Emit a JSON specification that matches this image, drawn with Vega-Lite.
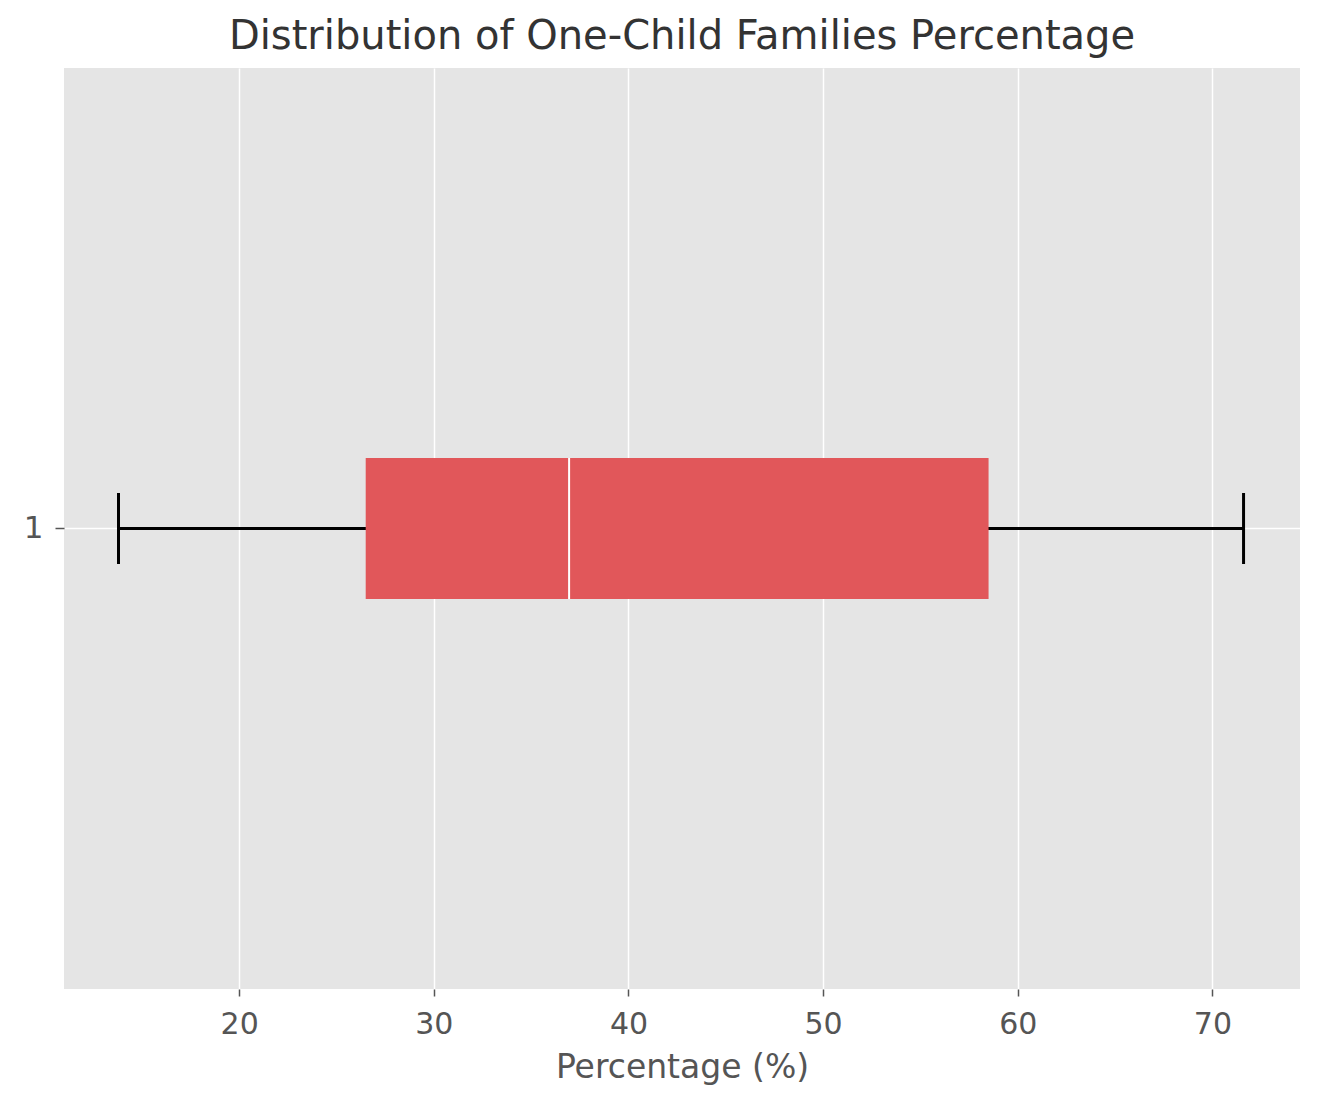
{
  "$schema": "https://vega.github.io/schema/vega-lite/v6.json",
  "autosize": "none",
  "width": 1236,
  "height": 921,
  "padding": {"left": 64, "top": 68, "right": 20, "bottom": 119},
  "background": "white",
  "title": {
    "text": "Distribution of One-Child Families Percentage",
    "font": "DejaVu Sans",
    "fontSize": 40,
    "fontWeight": "normal",
    "color": "#333333",
    "anchor": "middle",
    "offset": 11
  },
  "data": {
    "values": [
      {"group": "1", "min": 13.8, "q1": 26.5, "median": 36.95, "q3": 58.5, "max": 71.6}
    ]
  },
  "encoding": {
    "y": {
      "field": "group",
      "type": "nominal",
      "title": null,
      "axis": {"labelAngle": 0, "labelFontSize": 31, "tickSize": 9, "labelPadding": 12}
    }
  },
  "layer": [
    {
      "mark": {"type": "rule", "color": "black", "strokeWidth": 3},
      "encoding": {
        "x": {
          "field": "min",
          "type": "quantitative",
          "title": "Percentage (%)",
          "scale": {"domain": [11.0, 74.5], "nice": false, "zero": false},
          "axis": {"values": [20, 30, 40, 50, 60, 70], "labelPadding": 13, "titlePadding": 12}
        },
        "x2": {"field": "max"}
      }
    },
    {
      "mark": {"type": "bar", "color": "#E1575A", "size": 141},
      "encoding": {
        "x": {"field": "q1", "type": "quantitative"},
        "x2": {"field": "q3"}
      }
    },
    {
      "mark": {"type": "tick", "color": "white", "size": 141, "thickness": 2, "opacity": 1},
      "encoding": {
        "x": {"field": "median", "type": "quantitative"}
      }
    },
    {
      "mark": {"type": "tick", "color": "black", "size": 71, "thickness": 3, "opacity": 1},
      "encoding": {
        "x": {"field": "min", "type": "quantitative"}
      }
    },
    {
      "mark": {"type": "tick", "color": "black", "size": 71, "thickness": 3, "opacity": 1},
      "encoding": {
        "x": {"field": "max", "type": "quantitative"}
      }
    }
  ],
  "config": {
    "view": {"fill": "#E5E5E5", "stroke": null},
    "axis": {
      "domain": false,
      "grid": true,
      "gridColor": "white",
      "gridWidth": 1.5,
      "tickColor": "#555555",
      "tickSize": 7,
      "tickWidth": 1.5,
      "labelColor": "#555555",
      "labelFont": "DejaVu Sans",
      "labelFontSize": 30,
      "titleColor": "#555555",
      "titleFont": "DejaVu Sans",
      "titleFontSize": 33,
      "titleFontWeight": "normal"
    }
  }
}
